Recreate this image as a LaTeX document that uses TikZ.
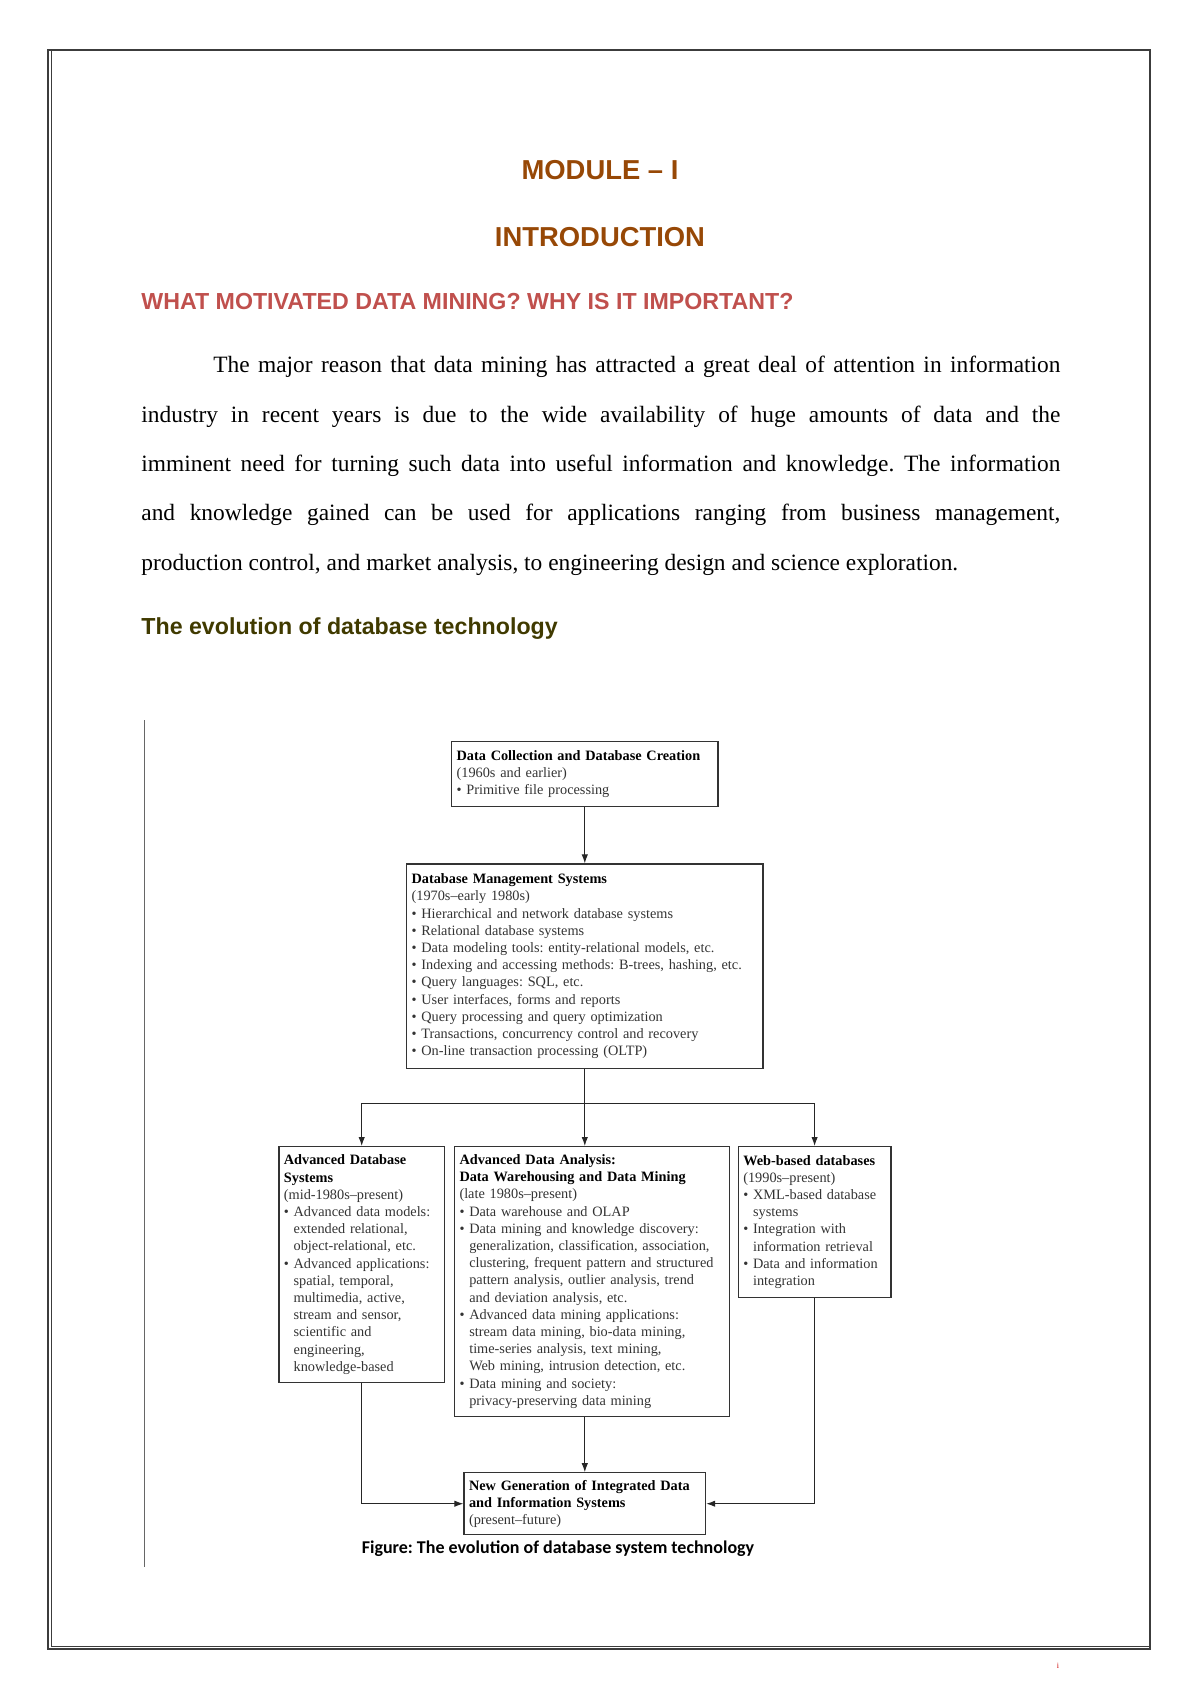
\documentclass[tikz,border=0pt]{standalone}
\usepackage{fontspec}
\setmainfont{Liberation Serif}
\setsansfont{Liberation Sans}
\newfontfamily\capfont{Carlito}
\usetikzlibrary{arrows.meta, positioning}
\definecolor{modbrown}{RGB}{151,72,6}
\definecolor{headred}{RGB}{192,80,77}
\definecolor{headolive}{RGB}{64,58,0}
\definecolor{framegray}{RGB}{60,60,60}
\frenchspacing
\newcommand{\figfont}{\fontsize{7.15}{8.6}\selectfont\frenchspacing}
\newcommand{\bitem}{\textbullet\ }
\newcommand{\bcont}{\hphantom{\textbullet\ }}
\newcommand{\btitle}[1]{\textcolor{black}{\textbf{#1}}}
\tikzset{
  title/.style={font=\sffamily\bfseries\fontsize{13.7}{16}\selectfont, text=modbrown, inner sep=0pt},
  heading/.style={font=\sffamily\bfseries\fontsize{11.6}{14}\selectfont, anchor=west, inner sep=0pt},
  stage/.style={rectangle, draw=black!80, line width=0.6pt, align=left, inner xsep=2.5pt, inner ysep=1pt, font=\figfont, text=black!80},
  line/.style={-{Latex[length=4.5pt,width=3.2pt]}, line width=0.5pt, black!85}
}

\begin{document}
\begin{tikzpicture}[x=1pt, y=-1pt]
\useasboundingbox (0,0) rectangle (600,849);
% page frame
\draw[framegray, line width=0.9pt] (24,25) rectangle (575,824.5);
\draw[framegray, line width=0.4pt] (25.7,25) -- (25.7,823) -- (575,823);

\node[title] (module) at (300,85) {MODULE -- I};
\node[title] (intro) at (300,118.5) {INTRODUCTION};
\node[heading, text=headred] (motiv) at (70.5,151) {WHAT MOTIVATED DATA MINING? WHY IS IT IMPORTANT?};

\node[anchor=north west, text width=459.5pt, align=justify, inner sep=0pt,
      font=\fontsize{11.7}{24.65}\selectfont\frenchspacing] (para) at (70.5,178)
  {\hspace*{36pt}The major reason that data mining has attracted a great deal of attention in information\linebreak
   industry in recent years is due to the wide availability of huge amounts of data and the\linebreak
   imminent need for turning such data into useful information and knowledge. The information\linebreak
   and knowledge gained can be used for applications ranging from business management,\linebreak
   production control, and market analysis, to engineering design and science exploration.};

\node[heading, text=headolive] (evol) at (70.5,314.5) {The evolution of database technology};

% figure
\draw[black!60, line width=0.5pt] (72,360) -- (72,783.5);

\node[stage, text width=128.2pt, minimum height=32.5pt, anchor=north] (a) at (292.4,370.4)
  {\btitle{Data Collection and Database Creation}\\
   (1960s and earlier)\\
   \bitem Primitive file processing};
\node[stage, text width=173.2pt, minimum height=102.3pt, below=28.2pt of a] (b)
  {\btitle{Database Management Systems}\\
   (1970s--early 1980s)\\
   \bitem Hierarchical and network database systems\\
   \bitem Relational database systems\\
   \bitem Data modeling tools: entity-relational models, etc.\\
   \bitem Indexing and accessing methods: B-trees, hashing, etc.\\
   \bitem Query languages: SQL, etc.\\
   \bitem User interfaces, forms and reports\\
   \bitem Query processing and query optimization\\
   \bitem Transactions, concurrency control and recovery\\
   \bitem On-line transaction processing (OLTP)};
\node[stage, text width=132.5pt, minimum height=134.9pt, below=38.4pt of b, xshift=3.6pt] (d)
  {\btitle{Advanced Data Analysis:}\\
   \btitle{Data Warehousing and Data Mining}\\
   (late 1980s--present)\\
   \bitem Data warehouse and OLAP\\
   \bitem Data mining and knowledge discovery:\\
   \bcont generalization, classification, association,\\
   \bcont clustering, frequent pattern and structured\\
   \bcont pattern analysis, outlier analysis, trend\\
   \bcont and deviation analysis, etc.\\
   \bitem Advanced data mining applications:\\
   \bcont stream data mining, bio-data mining,\\
   \bcont time-series analysis, text mining,\\
   \bcont Web mining, intrusion detection, etc.\\
   \bitem Data mining and society:\\
   \bcont privacy-preserving data mining};
\node[stage, text width=77.8pt, minimum height=118.1pt, anchor=north east] (c) at ([xshift=-4.4pt]d.north west)
  {\btitle{Advanced Database}\\
   \btitle{Systems}\\
   (mid-1980s--present)\\
   \bitem Advanced data models:\\
   \bcont extended relational,\\
   \bcont object-relational, etc.\\
   \bitem Advanced applications:\\
   \bcont spatial, temporal,\\
   \bcont multimedia, active,\\
   \bcont stream and sensor,\\
   \bcont scientific and\\
   \bcont engineering,\\
   \bcont knowledge-based};
\node[stage, text width=71.3pt, minimum height=75.3pt, anchor=north west] (e) at ([xshift=3.8pt]d.north east)
  {\btitle{Web-based databases}\\
   (1990s--present)\\
   \bitem XML-based database\\
   \bcont systems\\
   \bitem Integration with\\
   \bcont information retrieval\\
   \bitem Data and information\\
   \bcont integration};
\node[stage, text width=115.8pt, minimum height=30.9pt, below=27.6pt of d, xshift=-3.6pt] (f)
  {\btitle{New Generation of Integrated Data}\\
   \btitle{and Information Systems}\\
   (present--future)};
\node[font=\capfont\bfseries\fontsize{9}{11}\selectfont, inner sep=0pt] (cap) at (279,774.5)
  {Figure: The evolution of database system technology};

\coordinate (fork) at ([yshift=-17.3pt]b.south);
\draw[line] (a.south) -- (a.south |- b.north);
\draw[line width=0.5pt, black!85] (b.south) -- (fork);
\draw[line] (fork) -| (c);
\draw[line] (fork) -- (fork |- d.north);
\draw[line] (fork) -| (e);
\draw[line] (fork |- d.south) -- (fork |- f.north);
\draw[line] (c) |- (f);
\draw[line] (e) |- (f);

\node[text=red!80!black, font=\fontsize{4}{4}\selectfont, inner sep=0pt] (pgno) at (529,833) {i};
\end{tikzpicture}
\end{document}
